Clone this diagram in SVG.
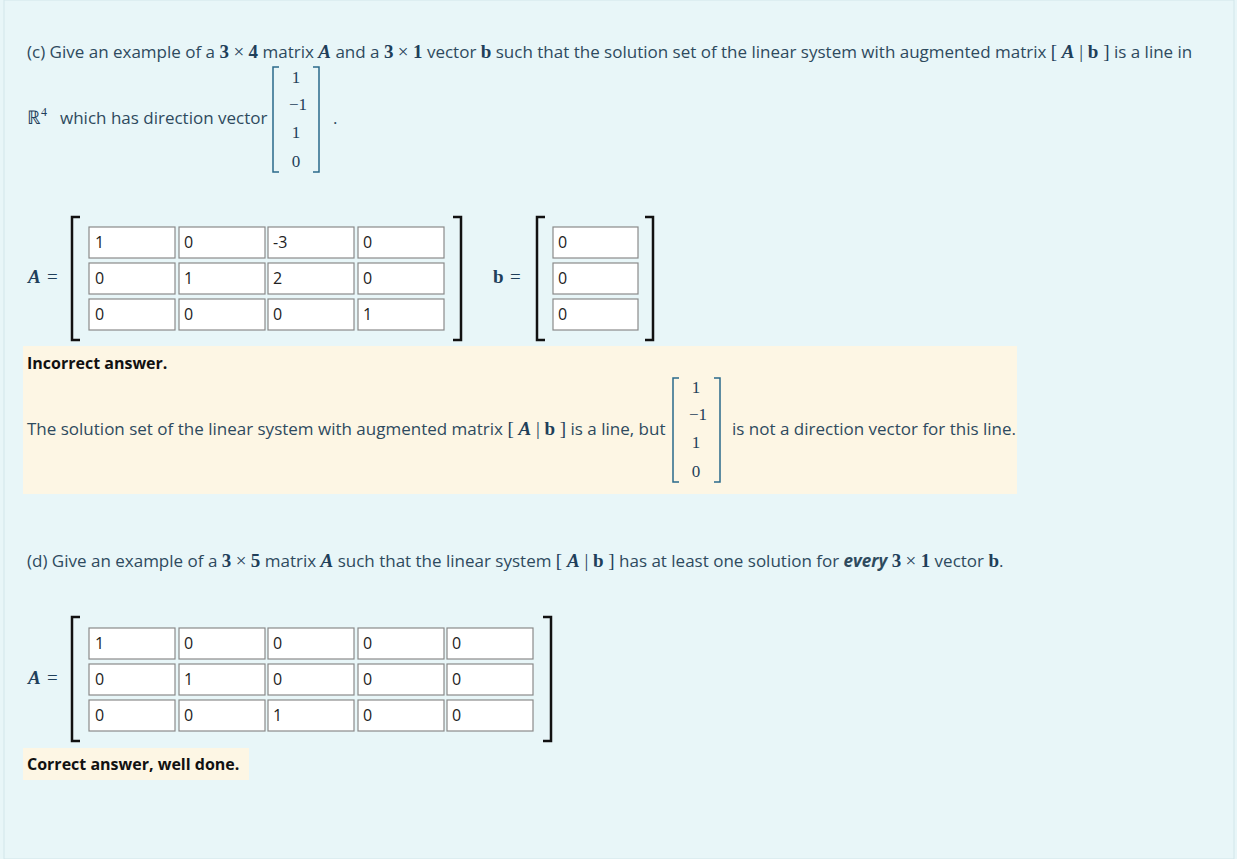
<svg xmlns="http://www.w3.org/2000/svg" width="1237" height="859" viewBox="0 0 1237 859">
<style>
.t{font-family:"Open Sans","Liberation Sans",sans-serif;font-size:17px;fill:#2e4a5e}
.m{font-family:"Liberation Serif",serif;font-size:19px;fill:#1f3f5a}
.mb{font-family:"Liberation Serif",serif;font-size:19px;font-weight:bold;fill:#1f3f5a}
.mi{font-family:"Liberation Serif",serif;font-size:19px;font-weight:bold;font-style:italic;fill:#1f3f5a}
.cell{fill:#fff;stroke:#8a8a8a;stroke-width:1.2}
.ct{font-family:"Open Sans","Liberation Sans",sans-serif;font-size:16px;fill:#222}
.br{fill:none;stroke:#111;stroke-width:2.5}
.vb{fill:none;stroke:#2a6a8a;stroke-width:1.5}
.vn{font-family:"Liberation Serif",serif;font-size:17px;fill:#1f3f5a;text-anchor:middle}
.fb{font-family:"Open Sans","Liberation Sans",sans-serif;font-size:16px;font-weight:bold;fill:#111}
</style>
<rect x="0" y="0" width="1237" height="859" fill="#e8f6f8"/>
<rect x="4" y="0" width="1230" height="859" fill="#e8f6f8" stroke="#d2e6ea"/>
<g id="q-c">
<text class="t" x="27" y="58">(c) Give an example of a <tspan class="mb">3</tspan> <tspan class="m">×</tspan> <tspan class="mb">4</tspan> matrix <tspan class="mi">A</tspan> and a <tspan class="mb">3</tspan> <tspan class="m">×</tspan> <tspan class="mb">1</tspan> vector <tspan class="mb">b</tspan> such that the solution set of the linear system with augmented matrix <tspan class="m">[ </tspan><tspan class="mi">A</tspan><tspan class="m"> | </tspan><tspan class="mb">b</tspan><tspan class="m"> ]</tspan> is a line in</text>
<text class="m" x="27" y="124">ℝ<tspan font-size="12" dy="-8">4</tspan></text>
<text class="t" x="60" y="124">which has direction vector</text>
<path class="vb" d="M279,67 H273 V172 H279 M313,67 H319 V172 H313"/>
<text class="vn" x="296" y="83">1</text><text class="vn" x="298" y="110">−1</text><text class="vn" x="296" y="138">1</text><text class="vn" x="296" y="167">0</text>
<text class="t" x="333" y="124">.</text>
</g>
<g id="matrix-A-c">
<text class="mi" x="28" y="283">A</text><text class="m" x="47" y="283">=</text>
<path class="br" d="M80,217 H72 V340 H80 M453,217 H461 V340 H453"/>
<rect class="cell" x="89" y="227" width="86" height="31"/><text class="ct" x="95" y="248">1</text>
<rect class="cell" x="179" y="227" width="86" height="31"/><text class="ct" x="184" y="248">0</text>
<rect class="cell" x="268" y="227" width="86" height="31"/><text class="ct" x="273" y="248">-3</text>
<rect class="cell" x="358" y="227" width="86" height="31"/><text class="ct" x="363" y="248">0</text>
<rect class="cell" x="89" y="263" width="86" height="31"/><text class="ct" x="95" y="284">0</text>
<rect class="cell" x="179" y="263" width="86" height="31"/><text class="ct" x="184" y="284">1</text>
<rect class="cell" x="268" y="263" width="86" height="31"/><text class="ct" x="273" y="284">2</text>
<rect class="cell" x="358" y="263" width="86" height="31"/><text class="ct" x="363" y="284">0</text>
<rect class="cell" x="89" y="299" width="86" height="31"/><text class="ct" x="95" y="320">0</text>
<rect class="cell" x="179" y="299" width="86" height="31"/><text class="ct" x="184" y="320">0</text>
<rect class="cell" x="268" y="299" width="86" height="31"/><text class="ct" x="273" y="320">0</text>
<rect class="cell" x="358" y="299" width="86" height="31"/><text class="ct" x="363" y="320">1</text>
</g>
<g id="vector-b">
<text class="mb" x="493" y="283">b</text><text class="m" x="510" y="283">=</text>
<path class="br" d="M545,217 H537 V340 H545 M645,217 H653 V340 H645"/>
<rect class="cell" x="553" y="227" width="85" height="31"/><text class="ct" x="558" y="248">0</text>
<rect class="cell" x="553" y="263" width="85" height="31"/><text class="ct" x="558" y="284">0</text>
<rect class="cell" x="553" y="299" width="85" height="31"/><text class="ct" x="558" y="320">0</text>
</g>
<g id="feedback-c">
<rect x="23" y="346" width="994" height="148" fill="#fdf6e4"/>
<text class="fb" x="27" y="369">Incorrect answer.</text>
<text class="t" x="27" y="435">The solution set of the linear system with augmented matrix <tspan class="m">[ </tspan><tspan class="mi">A</tspan><tspan class="m"> | </tspan><tspan class="mb">b</tspan><tspan class="m"> ]</tspan> is a line, but</text>
<path class="vb" d="M679,378 H673 V482 H679 M714,378 H720 V482 H714"/>
<text class="vn" x="696" y="393">1</text><text class="vn" x="698" y="420">−1</text><text class="vn" x="696" y="448">1</text><text class="vn" x="696" y="477">0</text>
<text class="t" x="732" y="435">is not a direction vector for this line.</text>
</g>
<g id="q-d">
<text class="t" x="27" y="567">(d) Give an example of a <tspan class="mb">3</tspan> <tspan class="m">×</tspan> <tspan class="mb">5</tspan>  matrix <tspan class="mi">A</tspan> such that the linear system  <tspan class="m">[ </tspan><tspan class="mi">A</tspan><tspan class="m"> | </tspan><tspan class="mb">b</tspan><tspan class="m"> ]</tspan> has at least one solution for <tspan font-weight="bold" font-style="italic">every</tspan> <tspan class="mb">3</tspan> <tspan class="m">×</tspan> <tspan class="mb">1</tspan> vector <tspan class="mb">b</tspan>.</text>
</g>
<g id="matrix-A-d">
<text class="mi" x="28" y="684">A</text><text class="m" x="47" y="684">=</text>
<path class="br" d="M80,617 H72 V741 H80 M543,617 H551 V741 H543"/>
<rect class="cell" x="89" y="628" width="86" height="31"/><text class="ct" x="95" y="649">1</text>
<rect class="cell" x="179" y="628" width="86" height="31"/><text class="ct" x="184" y="649">0</text>
<rect class="cell" x="268" y="628" width="86" height="31"/><text class="ct" x="273" y="649">0</text>
<rect class="cell" x="358" y="628" width="86" height="31"/><text class="ct" x="363" y="649">0</text>
<rect class="cell" x="447" y="628" width="86" height="31"/><text class="ct" x="452" y="649">0</text>
<rect class="cell" x="89" y="664" width="86" height="31"/><text class="ct" x="95" y="685">0</text>
<rect class="cell" x="179" y="664" width="86" height="31"/><text class="ct" x="184" y="685">1</text>
<rect class="cell" x="268" y="664" width="86" height="31"/><text class="ct" x="273" y="685">0</text>
<rect class="cell" x="358" y="664" width="86" height="31"/><text class="ct" x="363" y="685">0</text>
<rect class="cell" x="447" y="664" width="86" height="31"/><text class="ct" x="452" y="685">0</text>
<rect class="cell" x="89" y="700" width="86" height="31"/><text class="ct" x="95" y="721">0</text>
<rect class="cell" x="179" y="700" width="86" height="31"/><text class="ct" x="184" y="721">0</text>
<rect class="cell" x="268" y="700" width="86" height="31"/><text class="ct" x="273" y="721">1</text>
<rect class="cell" x="358" y="700" width="86" height="31"/><text class="ct" x="363" y="721">0</text>
<rect class="cell" x="447" y="700" width="86" height="31"/><text class="ct" x="452" y="721">0</text>
</g>
<g id="feedback-d">
<rect x="23" y="748" width="226" height="32" fill="#fdf6e4"/>
<text class="fb" x="27" y="770">Correct answer, well done.</text>
</g>
</svg>
